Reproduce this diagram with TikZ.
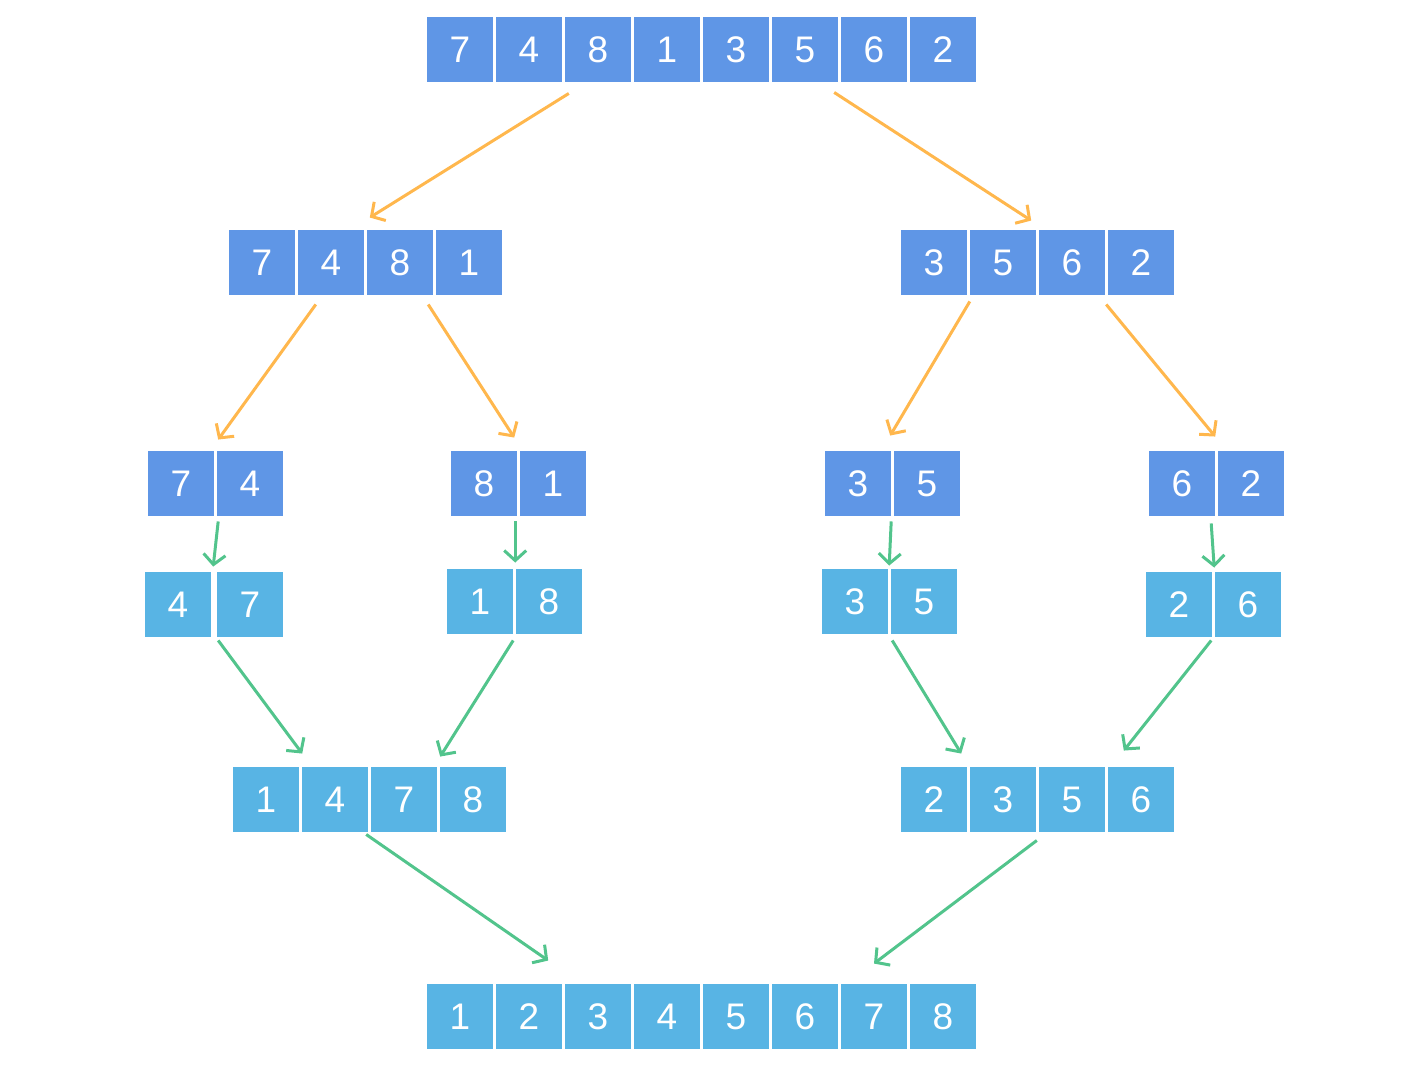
\documentclass[tikz,border=0pt]{standalone}
\usepackage{fontspec}
\setmainfont{Liberation Sans}
\usetikzlibrary{arrows.meta}
\definecolor{cdark}{RGB}{95,150,230}
\definecolor{clight}{RGB}{88,180,228}
\definecolor{corange}{RGB}{255,183,77}
\definecolor{cgreen}{RGB}{82,196,140}
\tikzset{sortpic/.style={x=1pt,y=-1pt},
  splitcell/.style={fill=cdark,text=white,minimum width=66pt,minimum height=65.5pt,inner sep=0pt,font=\fontsize{37}{44}\selectfont},
  mergecell/.style={splitcell,fill=clight},
  splitarr/.style={corange,line width=3pt,-{Straight Barb[length=10pt,width=22pt]}},
  mergearr/.style={splitarr,cgreen}}
% name, style, left x, centre y, pitch, values
\newcommand\cellrow[6]{\foreach \v [count=\i] in {#6} \node[#2] (#1\i) at ({#3+33+#5*(\i-1)},#4) {\v};}

\begin{document}
\begin{tikzpicture}[sortpic]
    \useasboundingbox (0,0) rectangle (1418,1082);
    % splitting
    \cellrow{t}{splitcell}{427}{49.5}{69}{7,4,8,1,3,5,6,2}
    \cellrow{l}{splitcell}{229}{262.5}{69}{7,4,8,1}
    \cellrow{r}{splitcell}{901}{262.5}{69}{3,5,6,2}
    \cellrow{a}{splitcell}{148}{483.5}{69}{7,4}
    \cellrow{b}{splitcell}{451}{483.5}{69}{8,1}
    \cellrow{c}{splitcell}{825}{483.5}{69}{3,5}
    \cellrow{d}{splitcell}{1149}{483.5}{69}{6,2}
    % merging
    \cellrow{e}{mergecell}{145}{604.5}{72}{4,7}
    \cellrow{g}{mergecell}{447}{601.5}{69}{1,8}
    \cellrow{h}{mergecell}{822}{601.5}{69}{3,5}
    \cellrow{k}{mergecell}{1146}{604.5}{69}{2,6}
    \cellrow{ml}{mergecell}{233}{799.5}{69}{1,4,7,8}
    \cellrow{mr}{mergecell}{901}{799.5}{69}{2,3,5,6}
    \cellrow{f}{mergecell}{427}{1016.5}{69}{1,2,3,4,5,6,7,8}
    \draw[splitarr] ([shift={(4,11)}]t3.south west) -- ([shift={(3,-12)}]l3.north west);
    \draw[splitarr] ([shift={(-4,10)}]t6.south east) -- ([shift={(-5,-9)}]r2.north east);
    \draw[splitarr] ([shift={(18,9)}]l2.south west) -- ([shift={(4,-11)}]a1.north east);
    \draw[splitarr] ([shift={(-5,9)}]l3.south east) -- ([shift={(-3,-13)}]b1.north east);
    \draw[splitarr] ([shift={(0,6)}]r2.south west) -- ([shift={(-1,-15)}]c1.north east);
    \draw[splitarr] ([shift={(1,9)}]r3.south east) -- ([shift={(0,-14)}]d1.north east);
    \draw[mergearr] ([shift={(4,5)}]a1.south east) -- ([shift={(2,-5)}]e1.north east);
    \draw[mergearr] ([shift={(-2,5)}]b1.south east) -- ([shift={(2,-6)}]g1.north east);
    \draw[mergearr] ([shift={(0,5)}]c1.south east) -- ([shift={(1,-3)}]h1.north east);
    \draw[mergearr] ([shift={(-4,7)}]d1.south east) -- ([shift={(2,-4)}]k1.north east);
    \draw[mergearr] ([shift={(7,3)}]e1.south east) -- ([shift={(3,-13)}]ml1.north east);
    \draw[mergearr] ([shift={(0,6)}]g1.south east) -- ([shift={(3,-10)}]ml3.north east);
    \draw[mergearr] ([shift={(4,6)}]h1.south east) -- ([shift={(-6,-13)}]mr1.north east);
    \draw[mergearr] ([shift={(-1,3)}]k1.south east) -- ([shift={(16,-16)}]mr4.north west);
    \draw[mergearr] ([shift={(-2,2)}]ml2.south east) -- ([shift={(-14,-23)}]f2.north east);
    \draw[mergearr] ([shift={(-2,8)}]mr3.south west) -- ([shift={(0,-20)}]f7.north);
\end{tikzpicture}
\end{document}
